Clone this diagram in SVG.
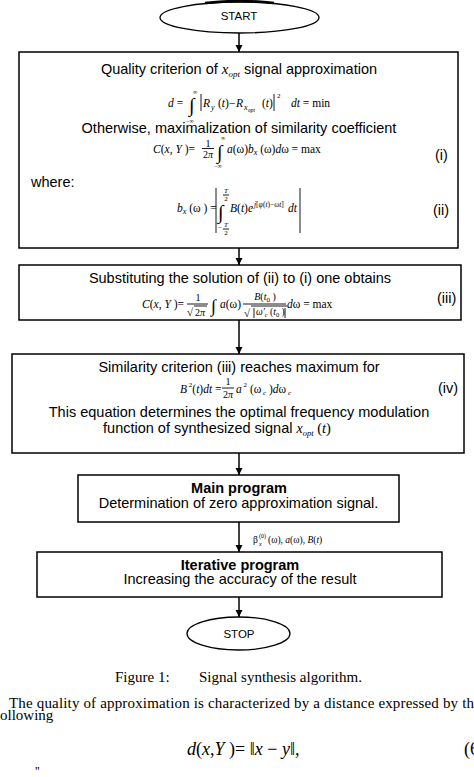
<svg xmlns="http://www.w3.org/2000/svg" width="474" height="777" viewBox="0 0 474 777">
<style>
.box{fill:#fff;stroke:#000;stroke-width:1.5}
.s{font-family:"Liberation Sans",Arial,sans-serif;font-size:14.5px;fill:#000}
.b{font-weight:bold}
.m{font-family:"Liberation Serif","Times New Roman",serif;font-size:11.5px;fill:#000}
.i{font-style:italic}
.t{font-family:"Liberation Serif","Times New Roman",serif;font-size:15px;fill:#000}
.c{text-anchor:middle}
.ln{stroke:#000;stroke-width:0.9;fill:none}
.con{stroke:#000;stroke-width:1.5;fill:none;marker-end:url(#ah)}
</style>
<defs>
<marker id="ah" viewBox="0 0 10 10" refX="10" refY="5" markerWidth="5" markerHeight="5.5" orient="auto" markerUnits="strokeWidth">
<path d="M0,0 L10,5 L0,10 z" fill="#000"/>
</marker>
</defs>
<rect width="474" height="777" fill="#fff"/>

<g id="connectors">
<line class="con" x1="239" y1="33" x2="239" y2="52"/>
<line class="con" x1="239" y1="248" x2="239" y2="265"/>
<line class="con" x1="239" y1="320" x2="239" y2="354"/>
<line class="con" x1="239" y1="453" x2="239" y2="475"/>
<line class="con" x1="239" y1="522" x2="239" y2="552"/>
<line class="con" x1="239" y1="597" x2="239" y2="617"/>
<g id="label-main-iter">
<text class="m" x="253" y="543" style="font-size:9.5px">β</text>
<text class="m" x="259" y="538" style="font-size:6px">(0)</text>
<text class="m i" x="259" y="546" style="font-size:6px">x</text>
<text class="m" x="268" y="543" style="font-size:9.5px">(ω), <tspan class="i">a</tspan>(ω), <tspan class="i">B</tspan>(<tspan class="i">t</tspan>)</text>
</g>
</g>

<g id="start">
<ellipse cx="239.5" cy="17.5" rx="79.5" ry="15.5" fill="#fff" stroke="#000" stroke-width="1.3"/>
<path d="M205,3 Q239.5,-1 274,3" stroke="#000" stroke-width="2.5" fill="none"/>
<text class="s c" x="239" y="20" style="font-size:11.5px">START</text>
</g>

<g id="box1">
<rect class="box" x="19" y="52" width="439" height="196"/>
<text class="s c" x="239" y="74">Quality criterion of <tspan class="i" font-family="Liberation Serif" font-size="15">x</tspan><tspan class="i" font-family="Liberation Serif" font-size="9" dy="3">opt</tspan><tspan dy="-3"> signal approximation</tspan></text>
<g id="eq-d">
<text class="m" x="168" y="107"><tspan class="i">d</tspan> =</text>
<text class="m" x="189" y="112" style="font-size:20px">∫</text>
<text class="m" x="193" y="94" style="font-size:6px">∞</text>
<text class="m" x="186" y="123" style="font-size:6px">−∞</text>
<line class="ln" x1="201" y1="94" x2="201" y2="111"/>
<text class="m i" x="203" y="107">R</text>
<text class="m i" x="211" y="110" style="font-size:8px">y</text>
<text class="m" x="218" y="107">(<tspan class="i">t</tspan>)−</text>
<text class="m i" x="236" y="107">R</text>
<text class="m i" x="244" y="110" style="font-size:8px">x</text>
<text class="m i" x="248" y="112" style="font-size:5.5px">opt</text>
<text class="m" x="262" y="107">(<tspan class="i">t</tspan>)</text>
<line class="ln" x1="274" y1="94" x2="274" y2="111"/>
<text class="m" x="277" y="98" style="font-size:7px">2</text>
<text class="m" x="291" y="107"><tspan class="i">dt</tspan> = min</text>
</g>
<text class="s c" x="239" y="133">Otherwise, maximalization of similarity coefficient</text>
<g id="eq-i">
<text class="m" x="153" y="153"><tspan class="i">C</tspan>(<tspan class="i">x</tspan>, <tspan class="i">Y</tspan> )=</text>
<text class="m c" x="208" y="146.5" style="font-size:10px">1</text>
<line class="ln" x1="202" y1="148.5" x2="214" y2="148.5"/>
<text class="m c" x="208" y="158" style="font-size:10px">2<tspan class="i">π</tspan></text>
<text class="m" x="217" y="159" style="font-size:20px">∫</text>
<text class="m" x="221" y="140" style="font-size:6px">∞</text>
<text class="m" x="214" y="168" style="font-size:6px">−∞</text>
<text class="m" x="227" y="153"><tspan class="i">a</tspan>(ω)<tspan class="i">b</tspan><tspan class="i" font-size="8" dy="2">x</tspan><tspan dy="-2"> (ω)<tspan class="i">d</tspan>ω = max</tspan></text>
<text class="s" x="435" y="160">(i)</text>
</g>
<text class="s" x="31" y="187">where:</text>
<g id="eq-ii">
<text class="m" x="177" y="212"><tspan class="i">b</tspan><tspan class="i" font-size="8" dy="2">x</tspan><tspan dy="-2"> (ω ) =</tspan></text>
<line class="ln" x1="216" y1="188" x2="216" y2="233"/>
<text class="m" x="218" y="219" style="font-size:20px">∫</text>
<text class="m i c" x="226" y="193" style="font-size:7px">T</text>
<line class="ln" x1="223" y1="195" x2="229" y2="195" stroke-width="0.6"/>
<text class="m c" x="226" y="201" style="font-size:7px">2</text>
<text class="m" x="218" y="230" style="font-size:7px">−</text>
<text class="m i c" x="226" y="227" style="font-size:7px">T</text>
<line class="ln" x1="223" y1="229" x2="229" y2="229" stroke-width="0.6"/>
<text class="m c" x="226" y="235" style="font-size:7px">2</text>
<text class="m" x="230" y="212"><tspan class="i">B</tspan>(<tspan class="i">t</tspan>)<tspan class="i">e</tspan></text>
<text class="m" x="254" y="207" style="font-size:7.5px"><tspan class="i">j</tspan>[φ(<tspan class="i">t</tspan>)−ω<tspan class="i">t</tspan>]</text>
<text class="m i" x="288" y="212">dt</text>
<line class="ln" x1="300" y1="188" x2="300" y2="233"/>
<text class="s" x="433" y="215">(ii)</text>
</g>
</g>

<g id="box2">
<rect class="box" x="19" y="265" width="442" height="55"/>
<text class="s c" x="240" y="283">Substituting the solution of (ii) to (i) one obtains</text>
<g id="eq-iii">
<text class="m" x="142" y="308"><tspan class="i">C</tspan>(<tspan class="i">x</tspan>, <tspan class="i">Y</tspan> )=</text>
<text class="m c" x="198" y="301" style="font-size:10px">1</text>
<line class="ln" x1="187" y1="304" x2="208" y2="304"/>
<text class="m" x="187" y="316" style="font-size:11px">√</text>
<line class="ln" x1="194" y1="306" x2="207" y2="306" stroke-width="0.7"/>
<text class="m" x="195" y="315.5" style="font-size:10px">2<tspan class="i">π</tspan></text>
<text class="m" x="211" y="312" style="font-size:18px">∫</text>
<text class="m" x="220" y="308"><tspan class="i">a</tspan>(ω)</text>
<text class="m c" x="265" y="300" style="font-size:10px"><tspan class="i">B</tspan>(<tspan class="i">t</tspan><tspan font-size="7" dy="1.5">0</tspan><tspan dy="-1.5"> )</tspan></text>
<line class="ln" x1="243" y1="304" x2="286" y2="304"/>
<text class="m" x="244" y="317" style="font-size:11px">√</text>
<line class="ln" x1="251" y1="306" x2="287" y2="306" stroke-width="0.7"/>
<line class="ln" x1="254" y1="308" x2="254" y2="318"/>
<text class="m" x="256" y="315" style="font-size:9.5px"><tspan class="i">ω′</tspan><tspan class="i" font-size="6.5" dy="2">c</tspan><tspan dy="-2"> (<tspan class="i">t</tspan><tspan font-size="6.5" dy="1.5">0</tspan><tspan dy="-1.5"> )</tspan></tspan></text>
<line class="ln" x1="285" y1="308" x2="285" y2="318"/>
<text class="m" x="287" y="308"><tspan class="i">d</tspan>ω = max</text>
<text class="s" x="437" y="303">(iii)</text>
</g>
</g>

<g id="box3">
<rect class="box" x="12" y="354" width="452" height="99"/>
<text class="s c" x="239" y="372">Similarity criterion (iii) reaches maximum for</text>
<g id="eq-iv">
<text class="m" x="180" y="393"><tspan class="i">B</tspan><tspan font-size="7" dy="-6"> 2</tspan><tspan dy="6">(<tspan class="i">t</tspan>)<tspan class="i">dt</tspan> =</tspan></text>
<text class="m c" x="228" y="385" style="font-size:10px">1</text>
<line class="ln" x1="222" y1="388" x2="234" y2="388"/>
<text class="m c" x="228" y="398" style="font-size:10px">2<tspan class="i">π</tspan></text>
<text class="m" x="236" y="393"><tspan class="i">a</tspan><tspan font-size="7" dy="-6"> 2</tspan><tspan dy="6"> (ω<tspan class="i" font-size="7" dy="2"> c</tspan><tspan dy="-2"> )<tspan class="i">d</tspan>ω<tspan class="i" font-size="7" dy="2"> c</tspan></tspan></tspan></text>
<text class="s" x="438" y="393">(iv)</text>
</g>
<text class="s c" x="239" y="417">This equation determines the optimal frequency modulation</text>
<text class="s c" x="217" y="433">function of synthesized signal <tspan class="i" font-family="Liberation Serif" font-size="14">x</tspan><tspan class="i" font-family="Liberation Serif" font-size="8.5" dy="3">opt</tspan><tspan font-family="Liberation Serif" dy="-3"> (<tspan class="i">t</tspan>)</tspan></text>
</g>

<g id="main">
<rect class="box" x="78" y="475" width="321" height="47"/>
<text class="s c b" x="239" y="493">Main program</text>
<text class="s c" x="238.5" y="508">Determination of zero approximation signal.</text>
</g>

<g id="iterative">
<rect class="box" x="37" y="552" width="405" height="45"/>
<text class="s c b" x="240" y="570">Iterative program</text>
<text class="s c" x="240" y="584">Increasing the accuracy of the result</text>
</g>

<g id="stop">
<ellipse cx="238.5" cy="633.5" rx="51.5" ry="16.5" fill="#fff" stroke="#000" stroke-width="1.3"/>
<text class="s c" x="239" y="637.5" style="font-size:11.5px">STOP</text>
</g>

<g id="caption">
<text class="t" x="115" y="682">Figure 1:</text>
<text class="t" x="199" y="682">Signal synthesis algorithm.</text>
<text class="t" x="9" y="708" textLength="465" lengthAdjust="spacing">The quality of approximation is characterized by a distance expressed by th</text>
<text class="t" x="0" y="720">ollowing</text>
<text class="t" x="187" y="755" style="font-size:18px"><tspan class="i">d</tspan>(<tspan class="i">x</tspan>,<tspan class="i">Y</tspan> )= ‖<tspan class="i">x</tspan> − <tspan class="i">y</tspan>‖,</text>
<text class="t" x="464" y="755" style="font-size:18px">(6</text>
<text class="t" x="35" y="775" style="font-size:13px">''</text>
</g>
</svg>
